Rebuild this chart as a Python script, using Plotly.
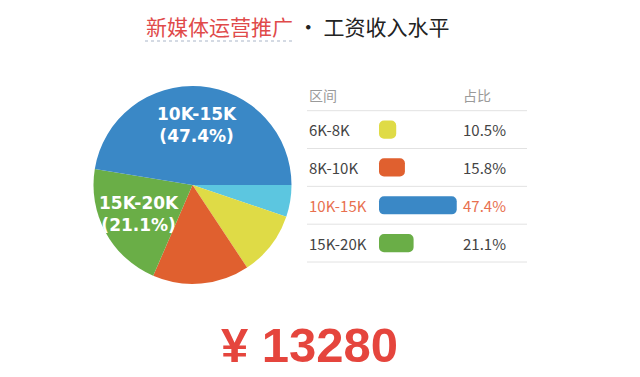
import math
import plotly.graph_objects as go

# ---------------- data ----------------
pie_labels = ["其他", "6K-8K", "8K-10K", "15K-20K", "10K-15K"]
pie_values = [5.2, 10.5, 15.8, 21.1, 47.4]
pie_colors = ["#5cc6e0", "#dfdb46", "#e0602f", "#6aae47", "#3a88c6"]
pie_labelled = ["10K-15K", "15K-20K"]

table_labels = ["6K-8K", "8K-10K", "10K-15K", "15K-20K"]
table_values = [10.5, 15.8, 47.4, 21.1]
table_colors = ["#dfdb46", "#e0602f", "#3a88c6", "#6aae47"]
table_highlight = "10K-15K"
header_left = "区间"
header_right = "占比"

title_red = "新媒体运营推广"
title_black = "工资收入水平"
salary_text = "¥ 13280"

# ---------------- layout helpers ----------------
W, H = 640, 377
def px(x):
    return x / W
def py(y):
    return 1 - y / H

CJK = "Noto Sans CJK SC, Noto Sans, sans-serif"

# pie geometry (pixels)
PX0, PX1, PY0, PY1 = 93, 292, 86, 284
CX, CY = (PX0 + PX1) / 2, (PY0 + PY1) / 2
R = min(PX1 - PX0, PY1 - PY0) / 2

fig = go.Figure()

fig.add_trace(go.Pie(
    labels=pie_labels, values=pie_values,
    marker=dict(colors=pie_colors, line=dict(width=0)),
    sort=False, direction="clockwise", rotation=90,
    textinfo="none",
    domain=dict(x=[px(PX0), px(PX1)], y=[py(PY1), py(PY0)]),
    showlegend=False, hoverinfo="skip",
))

rows = list(range(len(table_labels)))
fig.add_trace(go.Bar(
    x=table_values, base=[0.0] * len(table_values), y=rows, orientation="h",
    marker=dict(color=table_colors, line=dict(width=0)),
    width=0.48, hoverinfo="skip", showlegend=False,
))

scale = 1.64  # px per percent
fig.update_layout(
    width=W, height=H,
    margin=dict(l=0, r=0, t=0, b=0),
    paper_bgcolor="white", plot_bgcolor="white",
    barcornerradius=5,
    xaxis=dict(domain=[px(307), px(527)],
               range=[-(379 - 307) / scale, (527 - 379) / scale],
               showgrid=False, zeroline=False, showticklabels=False, fixedrange=True),
    yaxis=dict(domain=[py(265.8), py(106.9)], range=[3.6, -0.6],
               showgrid=False, zeroline=False, showticklabels=False, fixedrange=True),
)

shapes = []
for i in range(len(table_labels) + 1):
    shapes.append(dict(type="line", xref="x domain", yref="y", x0=0, x1=1,
                       y0=i - 0.5, y1=i - 0.5, line=dict(color="#e2e2e2", width=1)))
shapes.append(dict(type="line", xref="paper", yref="paper", x0=px(145), x1=px(295),
                   y0=py(41), y1=py(41), line=dict(color="#a9b5c8", width=1, dash="dot")))
fig.update_layout(shapes=shapes)

ann = []
# pie labels at 0.61 R along each labelled slice's mid-angle
total = sum(pie_values)
cum = 0.0
for lab, val in zip(pie_labels, pie_values):
    mid = (cum + val / 2) / total * 2 * math.pi  # clockwise from 3 o'clock
    cum += val
    if lab in pie_labelled:
        r = 0.61 * R
        x = CX + r * math.cos(mid)
        y = CY + r * math.sin(mid)
        ann.append(dict(xref="paper", yref="paper", x=px(x), y=py(y),
                        xanchor="center", yanchor="middle", showarrow=False,
                        text=f"<b>{lab}<br>({val / total * 100:.1f}%)</b>",
                        font=dict(family="DejaVu Sans", size=17, color="white")))

ann.append(dict(xref="paper", yref="paper", x=px(307), y=py(95), xanchor="left", yanchor="middle",
                text=header_left, showarrow=False, font=dict(family=CJK, size=14, color="#9a9a9a")))
ann.append(dict(xref="paper", yref="paper", x=px(461), y=py(95), xanchor="left", yanchor="middle",
                text=header_right, showarrow=False, font=dict(family=CJK, size=14, color="#9a9a9a")))
for i, (lab, val) in enumerate(zip(table_labels, table_values)):
    col = "#e8704f" if lab == table_highlight else "#444444"
    ann.append(dict(xref="paper", yref="y", x=px(307), y=i, xanchor="left", yanchor="middle",
                    text=lab, showarrow=False, font=dict(family=CJK, size=15, color=col)))
    ann.append(dict(xref="paper", yref="y", x=px(461), y=i, xanchor="left", yanchor="middle",
                    text=f"{val}%", showarrow=False, font=dict(family=CJK, size=15, color=col)))

ann.append(dict(xref="paper", yref="paper", x=px(144), y=py(26), xanchor="left", yanchor="middle",
                text=f"<span style='color:#e04a4a'>{title_red}</span> • {title_black}",
                showarrow=False, font=dict(family=CJK, size=21, color="#222222")))
ann.append(dict(xref="paper", yref="paper", x=px(309), y=py(345), xanchor="center", yanchor="middle",
                text=f"<b>{salary_text}</b>", showarrow=False,
                font=dict(family="Liberation Sans, Arial, sans-serif", size=49, color="#e5453d")))
fig.update_layout(annotations=ann)

fig.write_html("out.html")
